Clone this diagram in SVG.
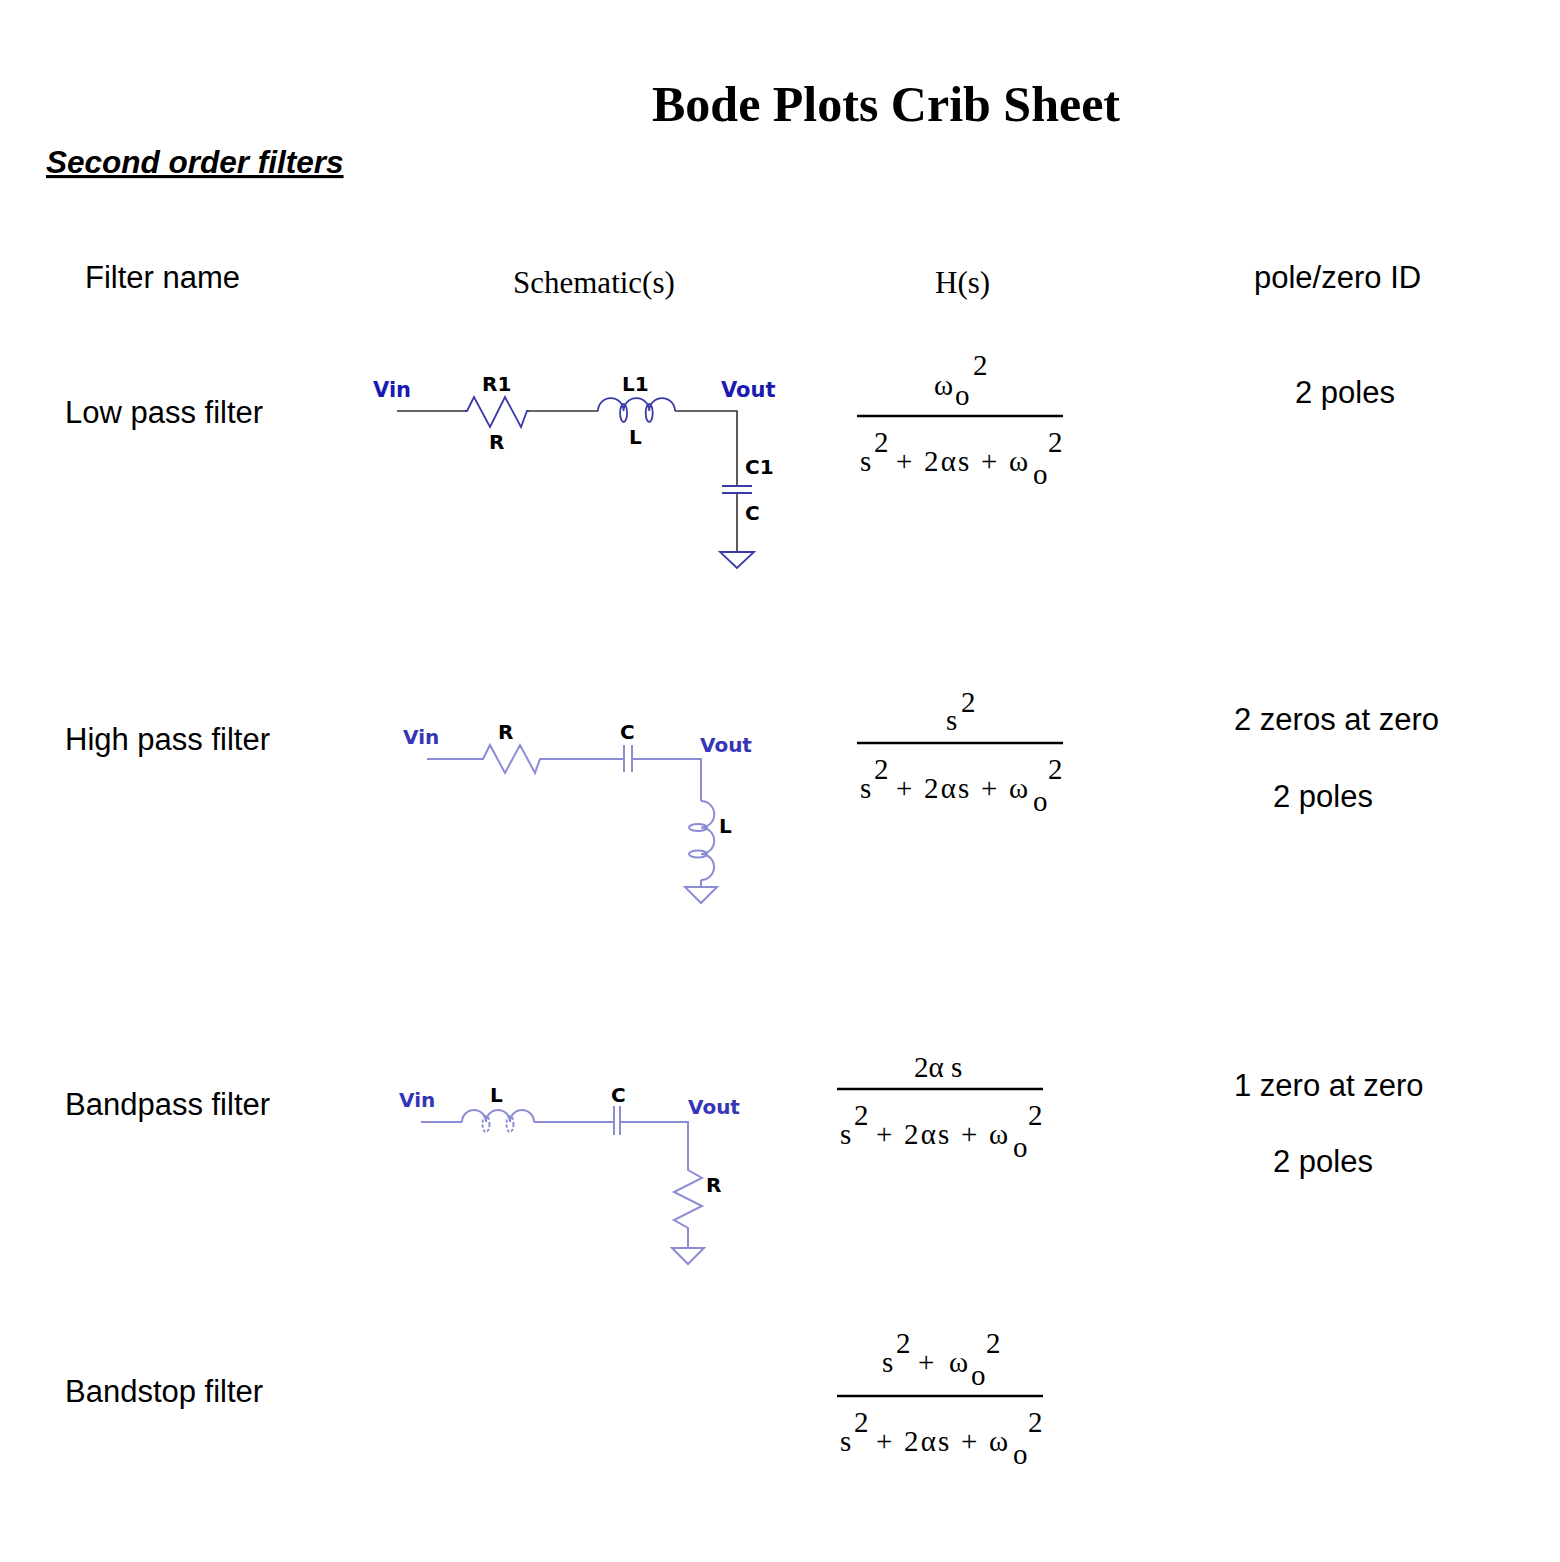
<svg xmlns="http://www.w3.org/2000/svg" width="1560" height="1562" viewBox="0 0 1560 1562">
<style>
.s{font-family:"Liberation Sans",Arial,sans-serif;font-size:31px;fill:#000}
.t{font-family:"Liberation Serif","Times New Roman",serif;font-size:31px;fill:#000}
.e{font-family:"Liberation Serif","Times New Roman",serif;font-size:29px;fill:#000}
.lb{font-family:"DejaVu Sans",Verdana,sans-serif;font-weight:bold;font-size:20px;fill:#000}
.nb{font-family:"DejaVu Sans",Verdana,sans-serif;font-weight:bold;font-size:21px;fill:#1a1ab0}
.nl{font-family:"DejaVu Sans",Verdana,sans-serif;font-weight:bold;font-size:20px;fill:#3535b5}
.w1{fill:none;stroke:#333;stroke-width:1.6}
.c1{fill:none;stroke:#3a3aa8;stroke-width:1.8}
.w2{fill:none;stroke:#8c8cd4;stroke-width:2}
.fl{stroke:#000;stroke-width:2.5}
</style>
<rect width="1560" height="1562" fill="#fff"/>
<text x="886" y="121" text-anchor="middle" style="font-family:'Liberation Serif',serif;font-weight:bold;font-size:50px">Bode Plots Crib Sheet</text>
<text x="46" y="173" style="font-family:'Liberation Sans',sans-serif;font-weight:bold;font-style:italic;font-size:31.5px;text-decoration:underline">Second order filters</text>
<g id="headers">
<text class="s" x="85" y="288">Filter name</text>
<text class="t" x="513" y="293">Schematic(s)</text>
<text class="t" x="935" y="293">H(s)</text>
<text class="s" x="1254" y="288">pole/zero ID</text>
</g>
<g id="labels">
<text class="s" x="65" y="423">Low pass filter</text>
<text class="s" x="65" y="750">High pass filter</text>
<text class="s" x="65" y="1115">Bandpass filter</text>
<text class="s" x="65" y="1402">Bandstop filter</text>
<text class="s" x="1295" y="403">2 poles</text>
<text class="s" x="1234" y="730">2 zeros at zero</text>
<text class="s" x="1273" y="807">2 poles</text>
<text class="s" x="1234" y="1096">1 zero at zero</text>
<text class="s" x="1273" y="1172">2 poles</text>
</g>
<g id="lpf-schematic">
<text class="nb" x="373" y="397">Vin</text>
<text class="nb" x="721" y="397">Vout</text>
<text class="lb" x="482" y="391">R1</text>
<text class="lb" x="489" y="449">R</text>
<text class="lb" x="622" y="391">L1</text>
<text class="lb" x="629" y="444">L</text>
<text class="lb" x="745" y="474">C1</text>
<text class="lb" x="745" y="520">C</text>
<path class="w1" d="M397,411H465M529,411H598M675,411H737V487M737,493V552"/>
<path class="c1" d="M465,411H467L474,397L490,427L505,397L521,427L527,411H529"/>
<path class="c1" d="M598,411A12.8,12.8 0 0 1 623.6,411A12.8,12.8 0 0 1 649.2,411A12.8,12.8 0 0 1 675,411"/>
<ellipse class="c1" cx="623.6" cy="413" rx="3.5" ry="9"/>
<ellipse class="c1" cx="649.2" cy="413" rx="3.5" ry="9"/>
<path class="c1" d="M722,486H752M722,493H752M720,552H754L737,568Z"/>
</g>
<g id="hpf-schematic">
<text class="nl" x="403" y="744">Vin</text>
<text class="nl" x="700" y="752">Vout</text>
<text class="lb" x="498" y="739">R</text>
<text class="lb" x="620" y="739">C</text>
<text class="lb" x="719" y="833">L</text>
<path class="w2" d="M427,759H475L483,759L490,745L505,773L520,745L535,773L540,759H624M632,759H701V801M701,880V887"/>
<path class="w2" d="M624,745V772M632,745V772"/>
<path class="w2" d="M701,801A13,13 0 0 1 701,827.5A13,13 0 0 1 701,854A13,13 0 0 1 701,880"/>
<ellipse class="w2" cx="698" cy="827.5" rx="9" ry="3.5"/>
<ellipse class="w2" cx="698" cy="854" rx="9" ry="3.5"/>
<path class="w2" d="M685,887H717L701,903Z"/>
</g>
<g id="bpf-schematic">
<text class="nl" x="399" y="1107">Vin</text>
<text class="nl" x="688" y="1114">Vout</text>
<text class="lb" x="490" y="1102">L</text>
<text class="lb" x="611" y="1102">C</text>
<text class="lb" x="706" y="1192">R</text>
<path class="w2" d="M421,1122H462M534,1122H614M620,1122H688V1170L702,1178L674,1192L702,1206L674,1220L688,1228V1248"/>
<path class="w2" d="M614,1106V1135M620,1106V1135"/>
<path class="w2" d="M462,1122A12,12 0 0 1 486,1122A12,12 0 0 1 510,1122A12,12 0 0 1 534,1122"/>
<ellipse class="w2" cx="486" cy="1124" rx="3.5" ry="8" stroke-dasharray="3,2"/>
<ellipse class="w2" cx="510" cy="1124" rx="3.5" ry="8" stroke-dasharray="3,2"/>
<path class="w2" d="M672,1248H704L688,1264Z"/>
</g>
<g id="eq-lpf">
<text class="e" x="934" y="395">ω</text><text class="e" x="955" y="405">o</text><text class="e" x="973" y="375">2</text>
<line class="fl" x1="857" y1="416" x2="1063" y2="416"/>
<text class="e" x="860" y="471">s</text><text class="e" x="874" y="452">2</text>
<text class="e" x="896" y="471" textLength="132" lengthAdjust="spacing">+ 2αs + ω</text><text class="e" x="1033" y="484">o</text><text class="e" x="1048" y="452">2</text>
</g>
<g id="eq-hpf">
<text class="e" x="946" y="730">s</text><text class="e" x="961" y="712">2</text>
<line class="fl" x1="857" y1="743" x2="1063" y2="743"/>
<text class="e" x="860" y="798">s</text><text class="e" x="874" y="779">2</text>
<text class="e" x="896" y="798" textLength="132" lengthAdjust="spacing">+ 2αs + ω</text><text class="e" x="1033" y="811">o</text><text class="e" x="1048" y="779">2</text>
</g>
<g id="eq-bpf">
<text class="e" x="914" y="1077">2α s</text>
<line class="fl" x1="837" y1="1089" x2="1043" y2="1089"/>
<text class="e" x="840" y="1144">s</text><text class="e" x="854" y="1125">2</text>
<text class="e" x="876" y="1144" textLength="132" lengthAdjust="spacing">+ 2αs + ω</text><text class="e" x="1013" y="1157">o</text><text class="e" x="1028" y="1125">2</text>
</g>
<g id="eq-bsf">
<text class="e" x="882" y="1372">s</text><text class="e" x="896" y="1353">2</text>
<text class="e" x="918" y="1372" textLength="50" lengthAdjust="spacing">+ ω</text><text class="e" x="971" y="1385">o</text><text class="e" x="986" y="1353">2</text>
<line class="fl" x1="837" y1="1396" x2="1043" y2="1396"/>
<text class="e" x="840" y="1451">s</text><text class="e" x="854" y="1432">2</text>
<text class="e" x="876" y="1451" textLength="132" lengthAdjust="spacing">+ 2αs + ω</text><text class="e" x="1013" y="1464">o</text><text class="e" x="1028" y="1432">2</text>
</g>
</svg>
